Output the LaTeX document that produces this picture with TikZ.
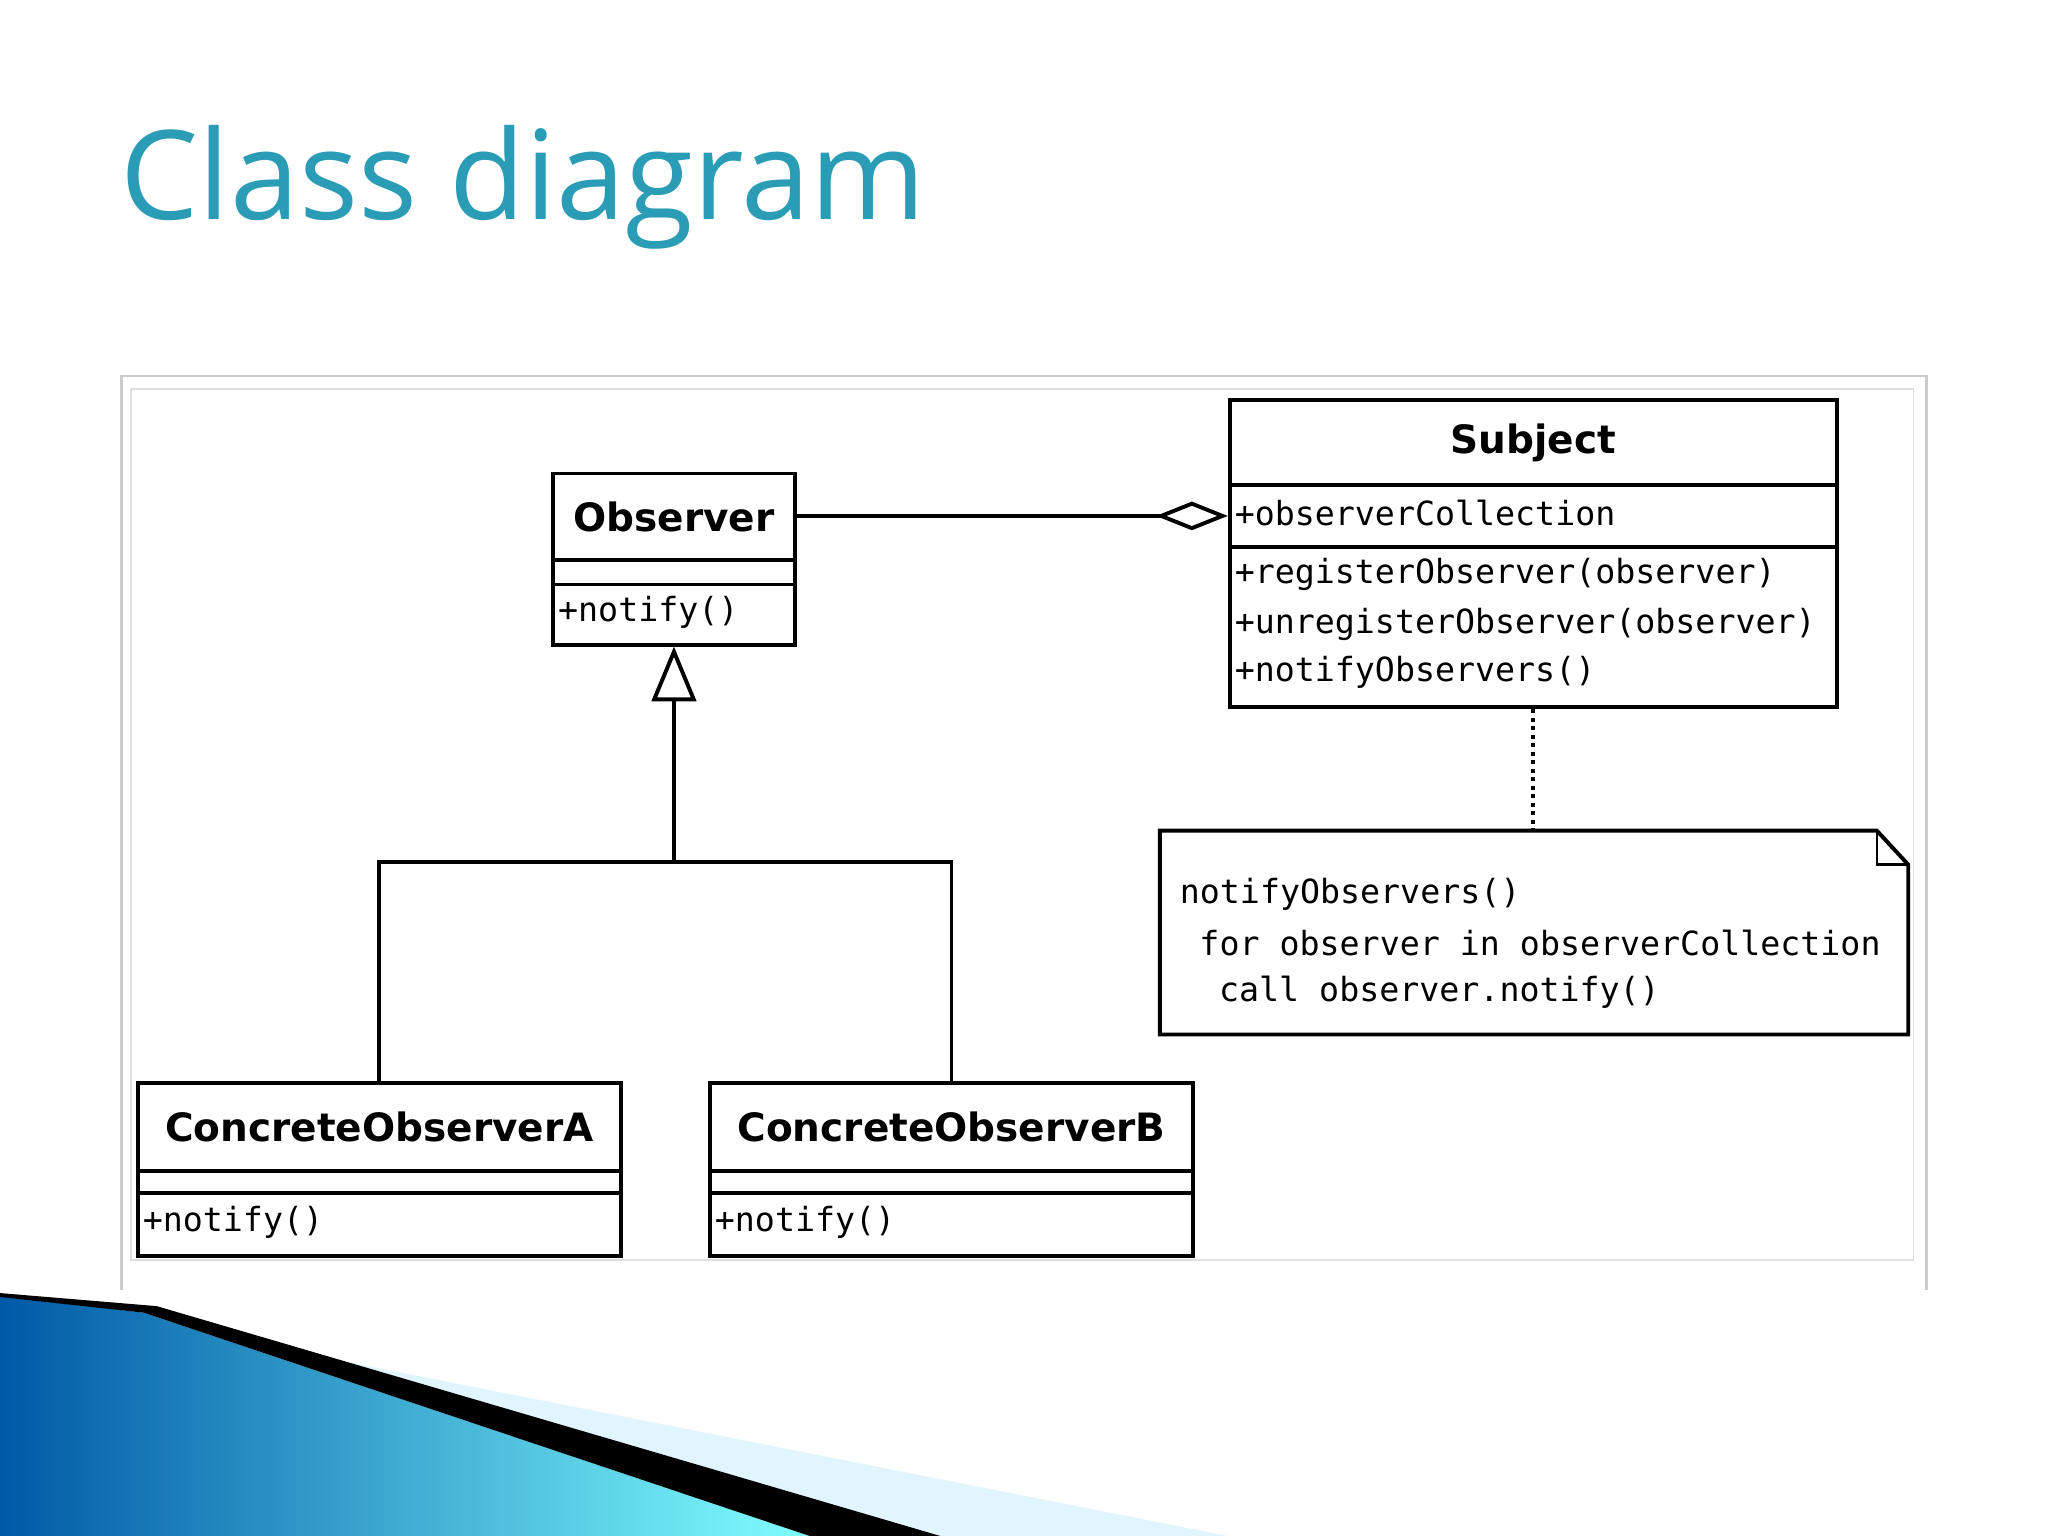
\documentclass[tikz,border=0pt]{standalone}
\usepackage{fontspec}
\setmainfont{DejaVu Sans}
\newfontfamily\titlefont{Open Sans}
\newfontfamily\monof{DejaVu Sans Mono}
\usetikzlibrary{shapes.geometric,arrows.meta}
\newdimen\pu \pu=0.02cm
\definecolor{teal1}{HTML}{2A9CB5}
\begin{document}
\begin{tikzpicture}[x=0.02cm,y=-0.02cm,
  cell/.style={draw,line width=3\pu,anchor=north west,inner sep=0pt},
  nm/.style={font=\fontsize{17pt}{20pt}\selectfont\bfseries},
  mt/.style={font=\monof\fontsize{14.5pt}{17pt}\selectfont,anchor=west,inner sep=0pt}]
\useasboundingbox (0,0) rectangle (1568,1176);
\fill[white] (0,0) rectangle (1568,1176);
% title
\node[anchor=base west,inner sep=0pt,text=teal1,font=\titlefont\fontsize{54pt}{58pt}\selectfont] (title) at (92,168) {Class diagram};
% frame
\draw[gray!40,line width=2\pu] (93,988) -- (93,288) -- (1475,288) -- (1475,988);
\draw[gray!25,line width=1.5\pu] (100,298) rectangle (1465,965);
% Observer
\node[cell,minimum width=185\pu,minimum height=66\pu] (obsN) at (422,361) {};
\node[nm] at (obsN.center) {Observer};
\node[cell,minimum width=185\pu,minimum height=19\pu] (obsA) at (422,427) {};
\node[cell,minimum width=185\pu,minimum height=46\pu] (obsM) at (422,446) {};
\node[mt] at (427,469) {+notify()};
% Subject
\node[cell,minimum width=465\pu,minimum height=65\pu] (subN) at (940,305) {};
\node[nm] at (subN.center) {Subject};
\node[cell,minimum width=465\pu,minimum height=47\pu] (subA) at (940,370) {};
\node[mt] at (945,393) {+observerCollection};
\node[cell,minimum width=465\pu,minimum height=123\pu] (subM) at (940,417) {};
\node[mt] at (945,440) {+registerObserver(observer)};
\node[mt] at (945,478) {+unregisterObserver(observer)};
\node[mt] at (945,515) {+notifyObservers()};
% Concrete A
\node[cell,minimum width=370\pu,minimum height=67\pu] (caN) at (104,828) {};
\node[nm] at (caN.center) {ConcreteObserverA};
\node[cell,minimum width=370\pu,minimum height=17\pu] (caA) at (104,895) {};
\node[cell,minimum width=370\pu,minimum height=48\pu] (caM) at (104,912) {};
\node[mt] at (109,936) {+notify()};
% Concrete B
\node[cell,minimum width=370\pu,minimum height=67\pu] (cbN) at (542,828) {};
\node[nm] at (cbN.center) {ConcreteObserverB};
\node[cell,minimum width=370\pu,minimum height=17\pu] (cbA) at (542,895) {};
\node[cell,minimum width=370\pu,minimum height=48\pu] (cbM) at (542,912) {};
\node[mt] at (547,936) {+notify()};
% aggregation
\draw[line width=3\pu,-{Diamond[open,length=1.1cm,width=0.44cm,line width=0.06cm]}] (obsN.east |- subA.west) -- (subA.west);
% generalization
\coordinate (jy) at (0,660);
\coordinate (j) at (obsM.south |- jy);
\draw[line width=3\pu,-{Triangle[open,length=0.84cm,width=0.68cm,line width=0.06cm]}] (j) -- (obsM.south);
\draw[line width=3\pu] (caN.north) |- (j) -| (cbN.north);
% note
\coordinate (notey) at (0,636);
\coordinate (note) at (subM.south |- notey);
\draw[line width=3\pu] (888,636) -- (1437,636) -- (1461,662) -- (1461,792) -- (888,792) -- cycle;
\draw[line width=2\pu] (1437,636) -- (1437,662) -- (1461,662);
\draw[line width=3\pu,dotted] (subM.south) -- (note);
\node[mt] at (903,685) {notifyObservers()};
\node[mt] at (918,722) {for observer in observerCollection};
\node[mt] at (933,760) {call observer.notify()};
% bottom decoration
\fill[cyan!12] (100,1010) -- (940,1176) -- (560,1176) -- cycle;
\shade[left color=teal!70!blue,right color=cyan!50] (0,992) -- (110,1005) -- (620,1176) -- (0,1176) -- cycle;
\fill[black] (0,990) -- (120,1000) -- (720,1176) -- (620,1176) -- (110,1005) -- (0,993) -- cycle;
\end{tikzpicture}
\end{document}
